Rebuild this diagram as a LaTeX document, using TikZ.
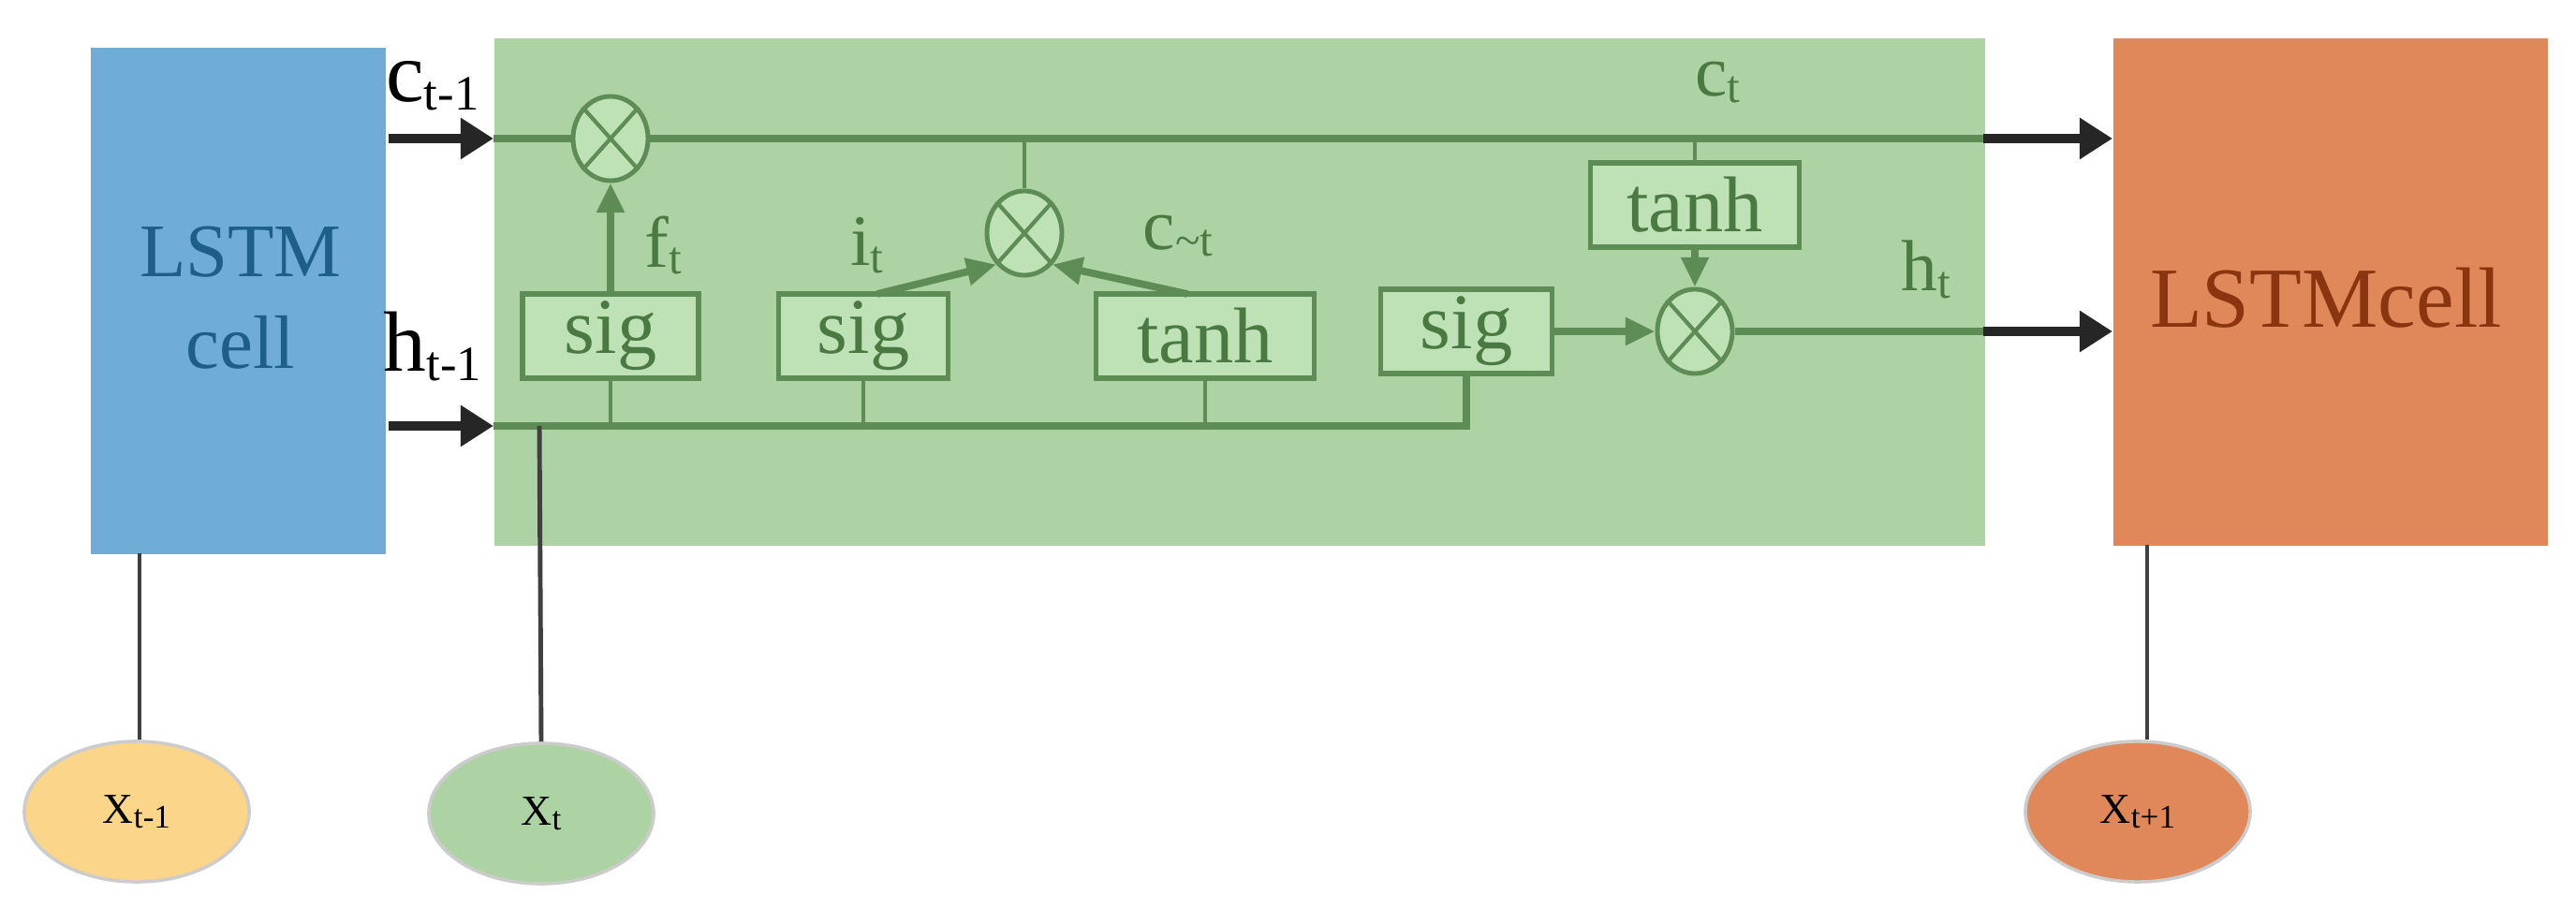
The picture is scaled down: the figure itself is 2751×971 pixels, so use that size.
\documentclass[tikz,border=0pt]{standalone}
\usepackage{fontspec}
\setmainfont{Liberation Serif}
\usetikzlibrary{shapes.geometric,arrows.meta}
\definecolor{gfill}{HTML}{ADD3A5}
\definecolor{gbox}{HTML}{BEE2B6}
\definecolor{gline}{HTML}{5E8C55}
\definecolor{gtext}{HTML}{4A7A42}
\definecolor{bfill}{HTML}{6FADD6}
\definecolor{btext}{HTML}{1E5F86}
\definecolor{ofill}{HTML}{E0885A}
\definecolor{otext}{HTML}{8A3510}
\definecolor{yfill}{HTML}{FAD58A}
\begin{document}
\begin{tikzpicture}[x=0.01cm,y=-0.01cm,
  gatebox/.style={draw=gline,line width=1.6pt,fill=gbox,minimum height=0.9cm,inner sep=0pt,text=gtext,font=\fontsize{24}{26}\selectfont},
  mul/.style={draw=gline,line width=1.4pt,fill=gbox,ellipse,minimum width=0.8cm,minimum height=0.9cm,inner sep=0pt},
  gl/.style={draw=gline,line width=2.2pt},
  thin/.style={draw=gline,line width=1.2pt},
  garrow/.style={gl,-{Triangle[length=9pt,width=8pt]}},
  barrow/.style={draw=black!85,line width=3pt,-{Triangle[length=10pt,width=12pt]}},
  lbl/.style={text=gtext,font=\fontsize{22}{24}\selectfont,inner sep=0pt},
  inp/.style={ellipse,minimum width=2.4cm,minimum height=1.5cm,draw=black!20,line width=1pt},
  pole/.style={draw=black!75,line width=1.4pt}]
\useasboundingbox (0,0) rectangle (2751,971);
% big blocks
\node[fill=bfill,minimum width=3.15cm,minimum height=5.41cm,inner sep=0pt,anchor=north west] (blue) at (96,50) {};
\node[fill=gfill,minimum width=15.91cm,minimum height=5.42cm,inner sep=0pt,anchor=north west] (green) at (527,40) {};
\node[fill=ofill,minimum width=4.64cm,minimum height=5.42cm,inner sep=0pt,anchor=north west] (orange) at (2256,40) {};
\node[text=btext,font=\fontsize{23}{28}\selectfont,align=center] (bt) at (257,318) {LSTM\\cell};
\node[text=otext,font=\fontsize{26}{30}\selectfont] (ot) at (2484,318) {LSTMcell};
% gate boxes
\node[gatebox,minimum width=1.88cm] (s1) at (652,359) {sig};
\node[gatebox,minimum width=1.81cm] (s2) at (922,359) {sig};
\node[gatebox,minimum width=2.33cm] (t1) at (1287,359) {tanh};
\node[gatebox,minimum width=1.83cm] (s3) at (1566,354) {sig};
\node[gatebox,minimum width=2.23cm] (t2) at (1810,219) {tanh};
% multiplication nodes
\node[mul] (m1) at (652,148) {};
\node[mul] (m2) at (1094,249) {};
\node[mul] (m3) at (1810,354) {};
\foreach \m in {m1,m2,m3}{
  \draw[thin] (\m.north east) -- (\m.south west);
  \draw[thin] (\m.north west) -- (\m.south east);}
% cell state line
\coordinate (cin) at (527,148);
\coordinate (cout) at (2118,148);
\coordinate (hin) at (527,455);
\coordinate (hout) at (2118,354);
\draw[gl] (cin) -- (m1.west);
\draw[gl] (m1.east) -- (cout);
\draw[thin] (m2.north) -- (1094,148);
\draw[thin] (t2.north) -- (1810,148);
% hidden line
\draw[gl] (hin) -- (1566,455) -- (s3.south);
\draw[thin] (s1.south) -- (652,455);
\draw[thin] (s2.south) -- (922,455);
\draw[thin] (t1.south) -- (1287,455);
\draw[gl] (m3.east) -- (hout);
% gate arrows
\draw[garrow] (s1.north) -- (m1.south);
\draw[garrow] (937,314) -- (m2.south west);
\draw[garrow] (1268,314) -- (m2.south east);
\draw[garrow] (s3.east) -- (m3.west);
\draw[garrow] (t2.south) -- (m3.north);
% black arrows
\coordinate (a1) at (415,148);
\coordinate (a2) at (415,455);
\draw[barrow] (a1) -- (cin);
\draw[barrow] (a2) -- (hin);
\draw[barrow] (cout) -- (cout -| orange.west);
\draw[barrow] (hout) -- (hout -| orange.west);
% labels
\node[font=\fontsize{26}{28}\selectfont,inner sep=0pt] (lc) at (462,92) {c\raisebox{-0.1em}{\fontsize{15}{16}\selectfont t-1}};
\node[font=\fontsize{26}{28}\selectfont,inner sep=0pt] (lh) at (462,370) {h\raisebox{-0.1em}{\fontsize{15}{16}\selectfont t-1}};
\node[lbl] (lf) at (708,262) {f\raisebox{-0.1em}{\fontsize{14}{16}\selectfont t}};
\node[lbl] (li) at (926,262) {i\raisebox{-0.1em}{\fontsize{14}{16}\selectfont t}};
\node[lbl] (lct) at (1258,252) {c\raisebox{-0.1em}{\fontsize{14}{16}\selectfont\textasciitilde t}};
\node[lbl] (lcn) at (1834,88) {c\raisebox{-0.1em}{\fontsize{14}{16}\selectfont t}};
\node[lbl] (lhn) at (2057,288) {h\raisebox{-0.1em}{\fontsize{14}{16}\selectfont t}};
% inputs
\node[inp,fill=yfill] (x1) at (146,867) {\fontsize{13}{14}\selectfont X\raisebox{-0.1em}{\fontsize{10}{11}\selectfont t-1}};
\node[inp,fill=gfill] (x2) at (578,869) {\fontsize{13}{14}\selectfont X\raisebox{-0.1em}{\fontsize{10}{11}\selectfont t}};
\node[inp,fill=ofill] (x3) at (2283,867) {\fontsize{13}{14}\selectfont X\raisebox{-0.1em}{\fontsize{10}{11}\selectfont t+1}};
\coordinate (p1) at (149,591);
\coordinate (p3) at (2293,582);
\draw[pole] (p1) -- (x1.north -| p1);
\draw[pole] (576,455) -- (x2.north);
\draw[pole] (p3) -- (x3.north -| p3);
\end{tikzpicture}
\end{document}
